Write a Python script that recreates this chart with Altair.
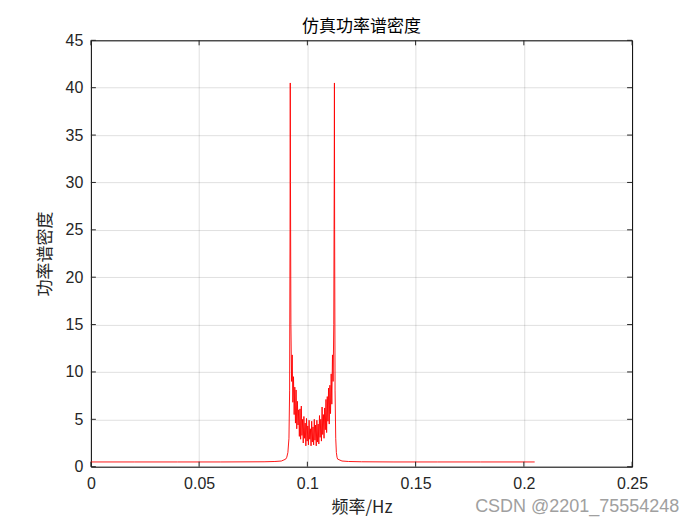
import altair as alt
import pandas as pd

# ---- data ----
freq_left = [0.0, 0.02, 0.04, 0.06, 0.08, 0.085, 0.088, 0.090, 0.0905, 0.091, 0.0915, 0.0918, 0.0920, 0.0921, 0.0922]
psd_left = [0.5, 0.5, 0.5, 0.5, 0.52, 0.55, 0.6, 0.8, 1.0, 1.5, 3.0, 8.0, 25.0, 40.5, 30.0]

freq_band = [0.0924, 0.0927, 0.0930, 0.0933, 0.0936, 0.0939, 0.0942, 0.0945, 0.0948, 0.0951,
             0.0954, 0.0957, 0.0960, 0.0963, 0.0966, 0.0969, 0.0972, 0.0975, 0.0978, 0.0981,
             0.0984, 0.0987, 0.0990, 0.0993, 0.0996, 0.0999, 0.1002, 0.1005, 0.1008, 0.1011,
             0.1014, 0.1017, 0.1020, 0.1023, 0.1026, 0.1029, 0.1032, 0.1035, 0.1038, 0.1041,
             0.1044, 0.1047, 0.1050, 0.1053, 0.1056, 0.1059, 0.1062, 0.1065, 0.1068, 0.1071,
             0.1074, 0.1077, 0.1080, 0.1083, 0.1086, 0.1089, 0.1092, 0.1095, 0.1098, 0.1101,
             0.1104, 0.1107, 0.1110, 0.1113, 0.1116, 0.1119, 0.1122]
psd_band = [15.0, 9.0, 11.8, 6.8, 9.5, 5.5, 8.4, 4.6, 8.1, 4.0,
            6.9, 4.4, 6.0, 3.2, 6.1, 2.9, 6.4, 3.3, 5.0, 2.5,
            5.3, 3.0, 4.6, 2.2, 5.1, 2.7, 4.3, 2.3, 4.9, 2.9,
            4.0, 2.2, 4.8, 2.6, 4.2, 2.3, 5.0, 2.8, 4.4, 2.2,
            4.9, 2.6, 4.5, 2.4, 5.4, 3.1, 5.0, 2.7, 6.3, 3.4,
            5.5, 3.0, 6.2, 3.9, 7.1, 3.6, 7.4, 4.8, 8.3, 4.5,
            8.6, 5.6, 9.8, 6.6, 11.8, 9.0, 15.0]

freq_right = [0.1124, 0.1125, 0.1126, 0.1128, 0.1131, 0.1134, 0.1137, 0.1140, 0.1160, 0.1190,
              0.1250, 0.1400, 0.1600, 0.1800, 0.2000, 0.2050]
psd_right = [30.0, 40.5, 25.0, 8.0, 3.0, 1.5, 1.0, 0.8, 0.6, 0.55,
             0.52, 0.5, 0.5, 0.5, 0.5, 0.5]

x_ticks = [0, 0.05, 0.1, 0.15, 0.2, 0.25]
y_ticks = [0, 5, 10, 15, 20, 25, 30, 35, 40, 45]

title_text = "仿真功率谱密度"
x_title = "频率/Hz"
y_title = "功率谱密度"
watermark = "CSDN @2201_75554248"

W, H = 542, 427
AX = "#262626"

df = pd.DataFrame({"f": freq_left + freq_band + freq_right,
                   "p": psd_left + psd_band + psd_right})
df["i"] = range(len(df))

xscale = alt.Scale(domain=[0, 0.25], nice=False, zero=False)
yscale = alt.Scale(domain=[0, 45], nice=False, zero=False)

x_axis = alt.Axis(values=x_ticks, format="~g", title=x_title,
                  titleY=41, titleBaseline="middle", labelPadding=9)
y_axis = alt.Axis(values=y_ticks, title=y_title, titleX=-45, titleY=H / 2,
                  titleBaseline="middle", titleAlign="center", titleAngle=270,
                  labelPadding=8)

line = alt.Chart(df).mark_line(color="#ff0000", strokeWidth=0.9).encode(
    x=alt.X("f:Q", scale=xscale, axis=x_axis, title=x_title),
    y=alt.Y("p:Q", scale=yscale, axis=y_axis, title=y_title),
    order="i:Q",
)

xt = pd.DataFrame({"t": x_ticks})
yt = pd.DataFrame({"t": y_ticks})

xb = alt.Chart(xt).mark_rule(color=AX, strokeWidth=1).encode(
    x=alt.X("t:Q", scale=xscale, axis=x_axis, title=x_title), y=alt.value(H), y2=alt.value(H - 5))
xtop = alt.Chart(xt).mark_rule(color=AX, strokeWidth=1).encode(
    x=alt.X("t:Q", scale=xscale, axis=x_axis, title=x_title), y=alt.value(0), y2=alt.value(5))
yl = alt.Chart(yt).mark_rule(color=AX, strokeWidth=1).encode(
    y=alt.Y("t:Q", scale=yscale, axis=y_axis, title=y_title), x=alt.value(0), x2=alt.value(5))
yr = alt.Chart(yt).mark_rule(color=AX, strokeWidth=1).encode(
    y=alt.Y("t:Q", scale=yscale, axis=y_axis, title=y_title), x=alt.value(W), x2=alt.value(W - 5))

wm = alt.Chart(pd.DataFrame({"txt": [watermark]})).mark_text(
    font="Liberation Sans", fontSize=18, color="#a0a0a0", align="center", baseline="middle"
).encode(text="txt:N", x=alt.value(487), y=alt.value(467))

chart = alt.layer(line, xb, xtop, yl, yr, wm).properties(
    width=W, height=H,
    background="white",
    title=alt.TitleParams(text=title_text, font="Noto Sans CJK SC", fontSize=17,
                          fontWeight="normal", color="#000000", anchor="middle", offset=-4),
    autosize=alt.AutoSizeParams(type="none"),
    padding={"left": 83, "top": 32, "right": 60, "bottom": 50},
).configure_view(
    stroke="#000000", strokeWidth=1
).configure_axis(
    domain=False, ticks=False, grid=True, gridColor=AX, gridOpacity=0.15,
    labelFont="Liberation Sans", labelFontSize=16, labelColor=AX,
    labelFlush=False, labelOverlap=False,
    titleFont="Noto Sans CJK SC", titleFontSize=17, titleFontWeight="normal", titleColor=AX,
)

chart.save("out.html", embed_options={"renderer": "svg", "actions": False})
